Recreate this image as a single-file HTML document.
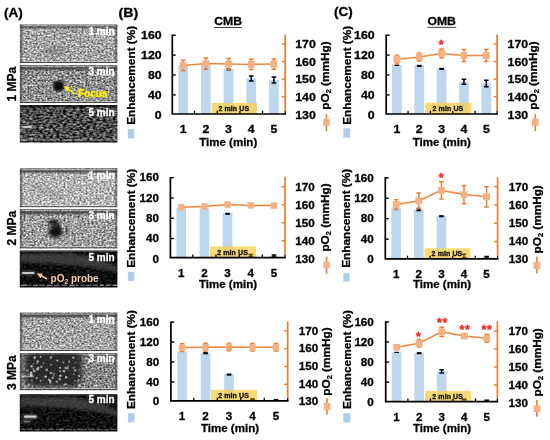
<!DOCTYPE html>
<html><head><meta charset="utf-8"><title>Figure</title>
<style>
html,body{margin:0;padding:0;background:#fff;}
svg{display:block;font-family:'Liberation Sans', Arial, sans-serif;}
text{stroke-width:0.3px;stroke-linejoin:round;}
text.k{stroke:#000;}
</style></head><body>
<svg width="550" height="440" viewBox="0 0 550 440">
<defs>
<filter id="sp1" x="0" y="0" width="100%" height="100%" color-interpolation-filters="sRGB">
<feTurbulence type="fractalNoise" baseFrequency="0.5 0.6" numOctaves="2" seed="8"/>
<feColorMatrix type="matrix" values="1.2 0 0 0 0.050  1.2 0 0 0 0.050  1.2 0 0 0 0.050  0 0 0 0 1"/>
<feGaussianBlur stdDeviation="0.4"/>
</filter>
<filter id="sp2" x="0" y="0" width="100%" height="100%" color-interpolation-filters="sRGB">
<feTurbulence type="fractalNoise" baseFrequency="0.5 0.6" numOctaves="2" seed="15"/>
<feColorMatrix type="matrix" values="1.3 0 0 0 -0.090  1.3 0 0 0 -0.090  1.3 0 0 0 -0.090  0 0 0 0 1"/>
<feGaussianBlur stdDeviation="0.4"/>
</filter>
<filter id="sp3" x="0" y="0" width="100%" height="100%" color-interpolation-filters="sRGB">
<feTurbulence type="fractalNoise" baseFrequency="0.3 0.55" numOctaves="2" seed="22"/>
<feColorMatrix type="matrix" values="1.25 0 0 0 -0.335  1.25 0 0 0 -0.335  1.25 0 0 0 -0.335  0 0 0 0 1"/>
<feGaussianBlur stdDeviation="0.5"/>
</filter>
<filter id="sp4" x="0" y="0" width="100%" height="100%" color-interpolation-filters="sRGB">
<feTurbulence type="fractalNoise" baseFrequency="0.5 0.6" numOctaves="2" seed="29"/>
<feColorMatrix type="matrix" values="1.15 0 0 0 0.135  1.15 0 0 0 0.135  1.15 0 0 0 0.135  0 0 0 0 1"/>
<feGaussianBlur stdDeviation="0.4"/>
</filter>
<filter id="sp5" x="0" y="0" width="100%" height="100%" color-interpolation-filters="sRGB">
<feTurbulence type="fractalNoise" baseFrequency="0.5 0.6" numOctaves="2" seed="36"/>
<feColorMatrix type="matrix" values="1.25 0 0 0 -0.005  1.25 0 0 0 -0.005  1.25 0 0 0 -0.005  0 0 0 0 1"/>
<feGaussianBlur stdDeviation="0.4"/>
</filter>
<filter id="sp6" x="0" y="0" width="100%" height="100%" color-interpolation-filters="sRGB">
<feTurbulence type="fractalNoise" baseFrequency="0.3 0.5" numOctaves="2" seed="43"/>
<feColorMatrix type="matrix" values="0.4 0 0 0 -0.150  0.4 0 0 0 -0.150  0.4 0 0 0 -0.150  0 0 0 0 1"/>
<feGaussianBlur stdDeviation="0.5"/>
</filter>
<filter id="sp7" x="0" y="0" width="100%" height="100%" color-interpolation-filters="sRGB">
<feTurbulence type="fractalNoise" baseFrequency="0.5 0.6" numOctaves="2" seed="50"/>
<feColorMatrix type="matrix" values="1.2 0 0 0 0.040  1.2 0 0 0 0.040  1.2 0 0 0 0.040  0 0 0 0 1"/>
<feGaussianBlur stdDeviation="0.4"/>
</filter>
<filter id="sp8" x="0" y="0" width="100%" height="100%" color-interpolation-filters="sRGB">
<feTurbulence type="fractalNoise" baseFrequency="0.5 0.6" numOctaves="2" seed="57"/>
<feColorMatrix type="matrix" values="1.15 0 0 0 -0.045  1.15 0 0 0 -0.045  1.15 0 0 0 -0.045  0 0 0 0 1"/>
<feGaussianBlur stdDeviation="0.4"/>
</filter>
<filter id="sp9" x="0" y="0" width="100%" height="100%" color-interpolation-filters="sRGB">
<feTurbulence type="fractalNoise" baseFrequency="0.3 0.5" numOctaves="2" seed="64"/>
<feColorMatrix type="matrix" values="0.45 0 0 0 -0.165  0.45 0 0 0 -0.165  0.45 0 0 0 -0.165  0 0 0 0 1"/>
<feGaussianBlur stdDeviation="0.5"/>
</filter>
<filter id="blur05" x="-30%" y="-30%" width="160%" height="160%"><feGaussianBlur stdDeviation="0.45"/></filter>
<filter id="blur07" x="-30%" y="-30%" width="160%" height="160%"><feGaussianBlur stdDeviation="0.5"/></filter>
<filter id="blur2s" x="-30%" y="-30%" width="160%" height="160%"><feGaussianBlur stdDeviation="2"/></filter>
<filter id="blur1" x="-30%" y="-30%" width="160%" height="160%"><feGaussianBlur stdDeviation="0.8"/></filter>
<filter id="blur15" x="-30%" y="-30%" width="160%" height="160%"><feGaussianBlur stdDeviation="1.4"/></filter>
<filter id="blur2" x="-30%" y="-30%" width="160%" height="160%"><feGaussianBlur stdDeviation="2.5"/></filter>
</defs>
<rect width="550" height="440" fill="#fff"/>
<clipPath id="c1"><rect x="19.8" y="24.4" width="97.6" height="38.6"/></clipPath>
<g clip-path="url(#c1)">
<rect x="16.8" y="21.4" width="103.6" height="44.6" filter="url(#sp1)"/>
<rect x="19.8" y="24.40" width="97.6" height="1" fill="#444" opacity="0.85"/><rect x="19.8" y="25.40" width="97.6" height="1" fill="#ccc" opacity="0.55"/><rect x="19.8" y="26.40" width="97.6" height="1.2" fill="#3a3a3a" opacity="0.8"/><rect x="19.8" y="27.60" width="97.6" height="1.2" fill="#3a3a3a" opacity="0.35"/><rect x="19.8" y="61.80" width="97.6" height="1.2" fill="#333" opacity="0.8"/><rect x="19.8" y="60.80" width="97.6" height="1" fill="#eee" opacity="0.55"/><rect x="19.8" y="24.40" width="2.5" height="38.6" fill="#333" opacity="0.5"/><rect x="114.89999999999999" y="24.40" width="2.5" height="38.6" fill="#333" opacity="0.4"/><ellipse cx="55" cy="51" rx="12" ry="4" fill="#555" opacity="0.35" filter="url(#blur2)"/>
</g>
<text x="114.6" y="34.5" font-size="10" text-anchor="end" fill="#fff" font-weight="bold" stroke="#fff" stroke-width="0.25">1 min</text>
<clipPath id="c2"><rect x="19.8" y="65.3" width="97.6" height="37.8"/></clipPath>
<g clip-path="url(#c2)">
<rect x="16.8" y="62.3" width="103.6" height="43.8" filter="url(#sp2)"/>
<rect x="19.8" y="65.30" width="97.6" height="1" fill="#444" opacity="0.85"/><rect x="19.8" y="66.30" width="97.6" height="1" fill="#ccc" opacity="0.55"/><rect x="19.8" y="67.30" width="97.6" height="2.2" fill="#3a3a3a" opacity="0.8"/><rect x="19.8" y="69.50" width="97.6" height="1.2" fill="#3a3a3a" opacity="0.35"/><rect x="19.8" y="101.90" width="97.6" height="1.2" fill="#333" opacity="0.8"/><rect x="19.8" y="100.90" width="97.6" height="1" fill="#eee" opacity="0.55"/><rect x="19.8" y="65.30" width="2.5" height="37.8" fill="#333" opacity="0.5"/><rect x="114.89999999999999" y="65.30" width="2.5" height="37.8" fill="#333" opacity="0.4"/><circle cx="58.5" cy="86" r="5.5" fill="#0c0c0c" filter="url(#blur1)"/><rect x="23" y="84.80" width="14" height="1.1" fill="#ddd" opacity="0.7"/>
</g>
<text x="114.6" y="75.2" font-size="10" text-anchor="end" fill="#fff" font-weight="bold" stroke="#fff" stroke-width="0.25">3 min</text>
<clipPath id="c3"><rect x="19.8" y="105.0" width="97.6" height="37.5"/></clipPath>
<g clip-path="url(#c3)">
<rect x="16.8" y="102.0" width="103.6" height="43.5" filter="url(#sp3)"/>
<rect x="19.8" y="105.00" width="97.6" height="2" fill="#000" opacity="0.6"/><rect x="20.8" y="139.30" width="3.2" height="1.3" fill="#bbb" opacity="0.58"/><rect x="25.2" y="139.30" width="5.0" height="1.3" fill="#bbb" opacity="0.61"/><rect x="30.9" y="139.30" width="2.1" height="1.3" fill="#bbb" opacity="0.69"/><rect x="34.0" y="139.30" width="3.2" height="1.3" fill="#bbb" opacity="0.75"/><rect x="38.6" y="139.30" width="6.2" height="1.3" fill="#bbb" opacity="0.55"/><rect x="46.5" y="139.30" width="2.8" height="1.3" fill="#bbb" opacity="0.61"/><rect x="51.5" y="139.30" width="4.6" height="1.3" fill="#bbb" opacity="0.65"/><rect x="58.0" y="139.30" width="2.3" height="1.3" fill="#bbb" opacity="0.66"/><rect x="62.0" y="139.30" width="3.5" height="1.3" fill="#bbb" opacity="0.39"/><rect x="67.7" y="139.30" width="4.4" height="1.3" fill="#bbb" opacity="0.64"/><rect x="74.3" y="139.30" width="5.6" height="1.3" fill="#bbb" opacity="0.72"/><rect x="81.2" y="139.30" width="6.0" height="1.3" fill="#bbb" opacity="0.54"/><rect x="89.6" y="139.30" width="6.4" height="1.3" fill="#bbb" opacity="0.41"/><rect x="96.7" y="139.30" width="3.1" height="1.3" fill="#bbb" opacity="0.74"/><rect x="101.2" y="139.30" width="5.1" height="1.3" fill="#bbb" opacity="0.49"/><rect x="107.9" y="139.30" width="3.9" height="1.3" fill="#bbb" opacity="0.51"/><rect x="113.5" y="139.30" width="4.9" height="1.3" fill="#bbb" opacity="0.71"/><rect x="19.8" y="141.10" width="97.6" height="1.4" fill="#111" opacity="0.8"/><rect x="21.0" y="124.70" width="12.5" height="4.6" rx="1.5" fill="#777" opacity="0.55" filter="url(#blur1)"/><rect x="22.5" y="125.90" width="9.5" height="2.2" rx="1" fill="#c4c4c4" filter="url(#blur05)"/>
</g>
<text x="114.6" y="115.6" font-size="10" text-anchor="end" fill="#fff" font-weight="bold" stroke="#fff" stroke-width="0.25">5 min</text>
<clipPath id="c4"><rect x="19.8" y="168.3" width="97.6" height="39.0"/></clipPath>
<g clip-path="url(#c4)">
<rect x="16.8" y="165.3" width="103.6" height="45.0" filter="url(#sp4)"/>
<rect x="19.8" y="168.30" width="97.6" height="1" fill="#444" opacity="0.85"/><rect x="19.8" y="169.30" width="97.6" height="1" fill="#ccc" opacity="0.55"/><rect x="19.8" y="170.30" width="97.6" height="2.2" fill="#3a3a3a" opacity="0.8"/><rect x="19.8" y="172.50" width="97.6" height="1.2" fill="#3a3a3a" opacity="0.35"/><rect x="19.8" y="206.10" width="97.6" height="1.2" fill="#333" opacity="0.8"/><rect x="19.8" y="205.10" width="97.6" height="1" fill="#eee" opacity="0.55"/><rect x="19.8" y="168.30" width="2.5" height="39.0" fill="#333" opacity="0.5"/><rect x="114.89999999999999" y="168.30" width="2.5" height="39.0" fill="#333" opacity="0.4"/><path d="M30 186 Q50 190 62 199" stroke="#555" stroke-width="4" fill="none" opacity="0.3" filter="url(#blur2)"/>
</g>
<text x="114.6" y="178.6" font-size="10" text-anchor="end" fill="#fff" font-weight="bold" stroke="#fff" stroke-width="0.25">1 min</text>
<clipPath id="c5"><rect x="19.8" y="209.2" width="97.6" height="39.2"/></clipPath>
<g clip-path="url(#c5)">
<rect x="16.8" y="206.2" width="103.6" height="45.2" filter="url(#sp5)"/>
<rect x="19.8" y="209.20" width="97.6" height="1" fill="#444" opacity="0.85"/><rect x="19.8" y="210.20" width="97.6" height="1" fill="#ccc" opacity="0.55"/><rect x="19.8" y="211.20" width="97.6" height="2.4" fill="#3a3a3a" opacity="0.8"/><rect x="19.8" y="213.60" width="97.6" height="1.2" fill="#3a3a3a" opacity="0.35"/><rect x="19.8" y="247.20" width="97.6" height="1.2" fill="#333" opacity="0.8"/><rect x="19.8" y="246.20" width="97.6" height="1" fill="#eee" opacity="0.55"/><rect x="19.8" y="209.20" width="2.5" height="39.2" fill="#333" opacity="0.5"/><rect x="114.89999999999999" y="209.20" width="2.5" height="39.2" fill="#333" opacity="0.4"/><ellipse cx="55.5" cy="232" rx="7" ry="5.5" fill="#0a0a0a" opacity="0.95" filter="url(#blur15)"/><ellipse cx="53.5" cy="222.5" rx="5.5" ry="3.2" fill="#111" opacity="0.85" filter="url(#blur15)"/><ellipse cx="57" cy="227" rx="3.5" ry="4" fill="#111" opacity="0.7" filter="url(#blur15)"/><ellipse cx="67.5" cy="231" rx="2" ry="3" fill="#222" opacity="0.5" filter="url(#blur1)"/>
</g>
<text x="114.6" y="219.4" font-size="10" text-anchor="end" fill="#fff" font-weight="bold" stroke="#fff" stroke-width="0.25">3 min</text>
<clipPath id="c6"><rect x="19.8" y="250.4" width="97.6" height="37.2"/></clipPath>
<g clip-path="url(#c6)">
<rect x="16.8" y="247.4" width="103.6" height="43.2" filter="url(#sp6)"/>
<path d="M19.8 253.4 L69.8 252.9 Q101.8 257.4 117.39999999999999 267.4 L117.39999999999999 272.4 Q81.8 263.4 19.8 262.4 Z" fill="#585858" opacity="0.6" filter="url(#blur15)"/><rect x="19.8" y="250.40" width="97.6" height="1.5" fill="#666" opacity="0.6"/><rect x="20.8" y="284.60" width="6.0" height="1.3" fill="#ccc" opacity="0.73"/><rect x="28.2" y="284.60" width="3.3" height="1.3" fill="#ccc" opacity="0.40"/><rect x="33.4" y="284.60" width="4.4" height="1.3" fill="#ccc" opacity="0.70"/><rect x="39.0" y="284.60" width="5.9" height="1.3" fill="#ccc" opacity="0.51"/><rect x="46.9" y="284.60" width="5.6" height="1.3" fill="#ccc" opacity="0.57"/><rect x="54.1" y="284.60" width="5.4" height="1.3" fill="#ccc" opacity="0.48"/><rect x="61.2" y="284.60" width="6.0" height="1.3" fill="#ccc" opacity="0.51"/><rect x="69.3" y="284.60" width="5.4" height="1.3" fill="#ccc" opacity="0.74"/><rect x="75.9" y="284.60" width="2.5" height="1.3" fill="#ccc" opacity="0.72"/><rect x="80.5" y="284.60" width="4.2" height="1.3" fill="#ccc" opacity="0.44"/><rect x="85.6" y="284.60" width="5.2" height="1.3" fill="#ccc" opacity="0.52"/><rect x="93.2" y="284.60" width="4.9" height="1.3" fill="#ccc" opacity="0.48"/><rect x="99.9" y="284.60" width="3.8" height="1.3" fill="#ccc" opacity="0.77"/><rect x="106.0" y="284.60" width="4.6" height="1.3" fill="#ccc" opacity="0.66"/><rect x="112.5" y="284.60" width="6.0" height="1.3" fill="#ccc" opacity="0.79"/><rect x="20.5" y="270.70" width="15.5" height="4.6" rx="1.5" fill="#777" opacity="0.55" filter="url(#blur1)"/><rect x="22" y="271.90" width="12.5" height="2.2" rx="1" fill="#c8c8c8" filter="url(#blur05)"/>
</g>
<text x="114.6" y="261.0" font-size="10" text-anchor="end" fill="#fff" font-weight="bold" stroke="#fff" stroke-width="0.25">5 min</text>
<clipPath id="c7"><rect x="19.8" y="312.6" width="97.6" height="38.4"/></clipPath>
<g clip-path="url(#c7)">
<rect x="16.8" y="309.6" width="103.6" height="44.4" filter="url(#sp7)"/>
<rect x="19.8" y="312.60" width="97.6" height="1" fill="#444" opacity="0.85"/><rect x="19.8" y="313.60" width="97.6" height="1" fill="#ccc" opacity="0.55"/><rect x="19.8" y="314.60" width="97.6" height="2.2" fill="#3a3a3a" opacity="0.8"/><rect x="19.8" y="316.80" width="97.6" height="1.2" fill="#3a3a3a" opacity="0.35"/><rect x="19.8" y="349.80" width="97.6" height="1.2" fill="#333" opacity="0.8"/><rect x="19.8" y="348.80" width="97.6" height="1" fill="#eee" opacity="0.55"/><rect x="19.8" y="312.60" width="2.5" height="38.4" fill="#333" opacity="0.5"/><rect x="114.89999999999999" y="312.60" width="2.5" height="38.4" fill="#333" opacity="0.4"/>
</g>
<text x="114.6" y="322.6" font-size="10" text-anchor="end" fill="#fff" font-weight="bold" stroke="#fff" stroke-width="0.25">1 min</text>
<clipPath id="c8"><rect x="19.8" y="353.3" width="97.6" height="37.0"/></clipPath>
<g clip-path="url(#c8)">
<rect x="16.8" y="350.3" width="103.6" height="43.0" filter="url(#sp8)"/>
<rect x="19.8" y="353.30" width="97.6" height="1" fill="#444" opacity="0.85"/><rect x="19.8" y="354.30" width="97.6" height="1" fill="#ccc" opacity="0.55"/><rect x="19.8" y="355.30" width="97.6" height="1.0" fill="#3a3a3a" opacity="0.8"/><rect x="19.8" y="356.30" width="97.6" height="1.2" fill="#3a3a3a" opacity="0.35"/><rect x="19.8" y="389.10" width="97.6" height="1.2" fill="#333" opacity="0.8"/><rect x="19.8" y="388.10" width="97.6" height="1" fill="#eee" opacity="0.55"/><rect x="19.8" y="353.30" width="2.5" height="37.0" fill="#333" opacity="0.5"/><rect x="114.89999999999999" y="353.30" width="2.5" height="37.0" fill="#333" opacity="0.4"/><rect x="25" y="353" width="57" height="33.5" rx="8" fill="#1a1a1a" opacity="0.85" filter="url(#blur2s)"/><g filter="url(#blur07)"><circle cx="51.0" cy="373.0" r="1.31" fill="#d0d0d0" opacity="0.63"/><circle cx="53.9" cy="373.8" r="0.90" fill="#d0d0d0" opacity="0.66"/><circle cx="60.4" cy="379.9" r="0.85" fill="#d0d0d0" opacity="0.55"/><circle cx="31.8" cy="380.4" r="1.18" fill="#d0d0d0" opacity="0.42"/><circle cx="79.1" cy="385.0" r="1.16" fill="#d0d0d0" opacity="0.71"/><circle cx="35.3" cy="356.9" r="1.09" fill="#d0d0d0" opacity="0.43"/><circle cx="37.1" cy="363.6" r="0.82" fill="#d0d0d0" opacity="0.63"/><circle cx="50.3" cy="381.4" r="1.09" fill="#d0d0d0" opacity="0.72"/><circle cx="53.5" cy="376.0" r="1.05" fill="#d0d0d0" opacity="0.54"/><circle cx="79.9" cy="385.9" r="1.26" fill="#d0d0d0" opacity="0.75"/><circle cx="43.7" cy="363.3" r="0.96" fill="#d0d0d0" opacity="0.44"/><circle cx="67.6" cy="368.3" r="1.27" fill="#d0d0d0" opacity="0.59"/><circle cx="77.8" cy="381.5" r="0.80" fill="#d0d0d0" opacity="0.50"/><circle cx="75.2" cy="370.4" r="1.34" fill="#d0d0d0" opacity="0.60"/><circle cx="30.9" cy="375.1" r="1.23" fill="#d0d0d0" opacity="0.53"/><circle cx="31.6" cy="366.3" r="1.33" fill="#d0d0d0" opacity="0.78"/><circle cx="33.3" cy="363.8" r="0.86" fill="#d0d0d0" opacity="0.43"/><circle cx="69.2" cy="361.7" r="1.11" fill="#d0d0d0" opacity="0.62"/><circle cx="37.1" cy="378.1" r="0.87" fill="#d0d0d0" opacity="0.72"/><circle cx="33.2" cy="368.9" r="0.92" fill="#d0d0d0" opacity="0.53"/><circle cx="78.5" cy="380.2" r="0.97" fill="#d0d0d0" opacity="0.84"/><circle cx="38.2" cy="368.1" r="1.27" fill="#d0d0d0" opacity="0.72"/><circle cx="32.3" cy="385.7" r="0.92" fill="#d0d0d0" opacity="0.53"/><circle cx="68.0" cy="366.2" r="0.96" fill="#d0d0d0" opacity="0.44"/><circle cx="31.8" cy="373.7" r="0.93" fill="#d0d0d0" opacity="0.70"/><circle cx="46.7" cy="369.9" r="1.33" fill="#d0d0d0" opacity="0.64"/><circle cx="57.5" cy="382.1" r="0.90" fill="#d0d0d0" opacity="0.48"/><circle cx="75.1" cy="380.6" r="0.94" fill="#d0d0d0" opacity="0.49"/><circle cx="66.2" cy="384.2" r="0.91" fill="#d0d0d0" opacity="0.88"/><circle cx="73.8" cy="374.3" r="1.03" fill="#d0d0d0" opacity="0.45"/><circle cx="29.1" cy="384.9" r="0.93" fill="#d0d0d0" opacity="0.75"/><circle cx="40.6" cy="380.8" r="1.13" fill="#d0d0d0" opacity="0.55"/><circle cx="36.3" cy="377.8" r="0.84" fill="#d0d0d0" opacity="0.51"/><circle cx="56.6" cy="381.6" r="1.14" fill="#d0d0d0" opacity="0.54"/><circle cx="75.6" cy="362.5" r="0.81" fill="#d0d0d0" opacity="0.53"/><circle cx="50.6" cy="358.3" r="0.90" fill="#d0d0d0" opacity="0.58"/><circle cx="57.3" cy="360.4" r="1.00" fill="#d0d0d0" opacity="0.85"/><circle cx="79.0" cy="375.9" r="1.18" fill="#d0d0d0" opacity="0.69"/><circle cx="34.4" cy="357.5" r="0.81" fill="#d0d0d0" opacity="0.86"/><circle cx="64.2" cy="384.9" r="0.81" fill="#d0d0d0" opacity="0.72"/><circle cx="52.6" cy="378.0" r="0.98" fill="#d0d0d0" opacity="0.90"/><circle cx="31.0" cy="372.6" r="1.21" fill="#d0d0d0" opacity="0.85"/><circle cx="66.1" cy="377.3" r="1.24" fill="#d0d0d0" opacity="0.86"/><circle cx="45.6" cy="376.7" r="1.30" fill="#d0d0d0" opacity="0.84"/><circle cx="49.1" cy="379.8" r="1.27" fill="#d0d0d0" opacity="0.69"/><circle cx="60.1" cy="367.8" r="1.12" fill="#d0d0d0" opacity="0.70"/><circle cx="31.3" cy="375.4" r="1.35" fill="#d0d0d0" opacity="0.84"/><circle cx="65.6" cy="368.0" r="1.20" fill="#d0d0d0" opacity="0.69"/><circle cx="50.3" cy="381.2" r="0.85" fill="#d0d0d0" opacity="0.78"/><circle cx="28.6" cy="374.2" r="1.06" fill="#d0d0d0" opacity="0.52"/><circle cx="64.0" cy="371.2" r="1.14" fill="#d0d0d0" opacity="0.86"/><circle cx="40.6" cy="356.8" r="0.97" fill="#d0d0d0" opacity="0.74"/><circle cx="37.7" cy="361.5" r="1.30" fill="#d0d0d0" opacity="0.73"/><circle cx="50.4" cy="382.8" r="0.98" fill="#d0d0d0" opacity="0.73"/><circle cx="37.5" cy="369.2" r="1.24" fill="#d0d0d0" opacity="0.86"/><circle cx="73.7" cy="367.8" r="1.12" fill="#d0d0d0" opacity="0.56"/><circle cx="34.2" cy="371.1" r="1.26" fill="#d0d0d0" opacity="0.82"/><circle cx="64.7" cy="384.5" r="0.95" fill="#d0d0d0" opacity="0.48"/><circle cx="50.9" cy="364.6" r="0.92" fill="#d0d0d0" opacity="0.61"/><circle cx="60.2" cy="371.1" r="0.97" fill="#d0d0d0" opacity="0.82"/><circle cx="79.0" cy="369.8" r="0.84" fill="#d0d0d0" opacity="0.42"/><circle cx="73.3" cy="357.7" r="1.19" fill="#d0d0d0" opacity="0.69"/><circle cx="43.4" cy="379.8" r="0.81" fill="#d0d0d0" opacity="0.47"/><circle cx="51.1" cy="357.2" r="1.26" fill="#d0d0d0" opacity="0.52"/><circle cx="34.5" cy="357.9" r="1.15" fill="#d0d0d0" opacity="0.62"/><circle cx="60.4" cy="375.8" r="1.24" fill="#d0d0d0" opacity="0.88"/><circle cx="63.3" cy="362.4" r="1.06" fill="#d0d0d0" opacity="0.49"/><circle cx="27.6" cy="370.4" r="1.19" fill="#d0d0d0" opacity="0.49"/><circle cx="41.4" cy="366.7" r="1.18" fill="#d0d0d0" opacity="0.66"/><circle cx="59.6" cy="378.8" r="1.02" fill="#d0d0d0" opacity="0.80"/></g><rect x="21" y="375.60" width="13" height="1.6" fill="#ddd" opacity="0.6"/>
</g>
<text x="114.6" y="362.4" font-size="10" text-anchor="end" fill="#fff" font-weight="bold" stroke="#fff" stroke-width="0.25">3 min</text>
<clipPath id="c9"><rect x="19.8" y="393.9" width="97.6" height="37.6"/></clipPath>
<g clip-path="url(#c9)">
<rect x="16.8" y="390.9" width="103.6" height="43.6" filter="url(#sp9)"/>
<path d="M19.8 396.9 L69.8 396.4 Q101.8 400.9 117.39999999999999 410.9 L117.39999999999999 415.9 Q81.8 406.9 19.8 405.9 Z" fill="#585858" opacity="0.6" filter="url(#blur15)"/><rect x="19.8" y="393.90" width="97.6" height="1.5" fill="#666" opacity="0.6"/><rect x="20.8" y="428.70" width="4.3" height="1.3" fill="#bbb" opacity="0.48"/><rect x="25.9" y="428.70" width="6.3" height="1.3" fill="#bbb" opacity="0.35"/><rect x="33.7" y="428.70" width="6.5" height="1.3" fill="#bbb" opacity="0.38"/><rect x="41.8" y="428.70" width="5.1" height="1.3" fill="#bbb" opacity="0.36"/><rect x="48.2" y="428.70" width="5.5" height="1.3" fill="#bbb" opacity="0.51"/><rect x="55.6" y="428.70" width="2.8" height="1.3" fill="#bbb" opacity="0.43"/><rect x="59.1" y="428.70" width="4.5" height="1.3" fill="#bbb" opacity="0.67"/><rect x="65.4" y="428.70" width="5.9" height="1.3" fill="#bbb" opacity="0.48"/><rect x="73.2" y="428.70" width="2.5" height="1.3" fill="#bbb" opacity="0.45"/><rect x="77.6" y="428.70" width="5.6" height="1.3" fill="#bbb" opacity="0.50"/><rect x="83.9" y="428.70" width="3.3" height="1.3" fill="#bbb" opacity="0.42"/><rect x="88.3" y="428.70" width="6.0" height="1.3" fill="#bbb" opacity="0.42"/><rect x="96.6" y="428.70" width="6.4" height="1.3" fill="#bbb" opacity="0.37"/><rect x="104.3" y="428.70" width="4.5" height="1.3" fill="#bbb" opacity="0.36"/><rect x="110.1" y="428.70" width="6.5" height="1.3" fill="#bbb" opacity="0.39"/><rect x="22.5" y="414.20" width="15.5" height="4.8" rx="1.5" fill="#777" opacity="0.55" filter="url(#blur1)"/><rect x="24" y="415.40" width="12.5" height="2.4" rx="1" fill="#d0d0d0" filter="url(#blur05)"/><rect x="22.5" y="419.70" width="9" height="3.5999999999999996" rx="1.5" fill="#777" opacity="0.55" filter="url(#blur1)"/><rect x="24" y="420.90" width="6" height="1.2" rx="1" fill="#777" filter="url(#blur05)"/>
</g>
<text x="114.6" y="403.4" font-size="10" text-anchor="end" fill="#fff" font-weight="bold" stroke="#fff" stroke-width="0.25">5 min</text>
<rect x="178.35" y="64.90" width="9.7" height="49.10" fill="#bdd7ee"/>
<rect x="201.02" y="64.70" width="9.7" height="49.30" fill="#bdd7ee"/>
<rect x="223.69" y="69.00" width="9.7" height="45.00" fill="#bdd7ee"/>
<rect x="246.36" y="78.40" width="9.7" height="35.60" fill="#bdd7ee"/>
<rect x="269.03" y="80.00" width="9.7" height="34.00" fill="#bdd7ee"/>
<rect x="211.50" y="102.90" width="45.50" height="11.10" fill="#f7d050" fill-opacity="0.8"/>
<text class="k" x="233.85" y="111.0" font-size="7.0" text-anchor="middle" fill="#1a1a1a" font-weight="bold" letter-spacing="0.1">2 min US</text>
<rect x="226.24" y="68.35" width="4.6" height="2.1" fill="#000"/>
<path d="M251.21 76.10V81.10M248.91 76.10h4.6M248.91 81.10h4.6" stroke="#000" stroke-width="1.5" fill="none"/>
<path d="M273.88 77.00V83.00M271.58 77.00h4.6M271.58 83.00h4.6" stroke="#000" stroke-width="1.5" fill="none"/>
<path d="M172.3 34.50V114.0H286.05" stroke="#000" stroke-width="1.7" fill="none" stroke-linejoin="miter"/>
<path d="M172.3 94.90h3.4" stroke="#000" stroke-width="1.4"/>
<path d="M172.3 75.00h3.4" stroke="#000" stroke-width="1.4"/>
<path d="M172.3 55.10h3.4" stroke="#000" stroke-width="1.4"/>
<path d="M172.3 35.20h3.4" stroke="#000" stroke-width="1.4"/>
<path d="M194.53 114.0v-3.2" stroke="#000" stroke-width="1.3"/>
<path d="M217.20 114.0v-3.2" stroke="#000" stroke-width="1.3"/>
<path d="M239.88 114.0v-3.2" stroke="#000" stroke-width="1.3"/>
<path d="M262.54 114.0v-3.2" stroke="#000" stroke-width="1.3"/>
<path d="M285.20 114.0v-3.2" stroke="#000" stroke-width="1.3"/>
<path d="M285.2 34.50V111.00" stroke="#ed7d31" stroke-width="1.7" fill="none"/>
<path d="M281.60 96.80H285.2" stroke="#ed7d31" stroke-width="1.4"/>
<path d="M281.60 79.20H285.2" stroke="#ed7d31" stroke-width="1.4"/>
<path d="M281.60 61.60H285.2" stroke="#ed7d31" stroke-width="1.4"/>
<path d="M281.60 44.00H285.2" stroke="#ed7d31" stroke-width="1.4"/>
<text class="k" transform="translate(161.6 118.5) scale(1.1 1)" font-size="11.2" text-anchor="end" fill="#000" font-weight="bold" >0</text>
<text class="k" transform="translate(161.6 98.53) scale(1.1 1)" font-size="11.2" text-anchor="end" fill="#000" font-weight="bold" >40</text>
<text class="k" transform="translate(161.6 78.55) scale(1.1 1)" font-size="11.2" text-anchor="end" fill="#000" font-weight="bold" >80</text>
<text class="k" transform="translate(161.6 58.57) scale(1.1 1)" font-size="11.2" text-anchor="end" fill="#000" font-weight="bold" >120</text>
<text class="k" transform="translate(161.6 38.6) scale(1.1 1)" font-size="11.2" text-anchor="end" fill="#000" font-weight="bold" >160</text>
<text class="k" transform="translate(295.2 118.5) scale(1.1 1)" font-size="11.2" text-anchor="start" fill="#000" font-weight="bold" >130</text>
<text class="k" transform="translate(295.2 100.88) scale(1.1 1)" font-size="11.2" text-anchor="start" fill="#000" font-weight="bold" >140</text>
<text class="k" transform="translate(295.2 83.25) scale(1.1 1)" font-size="11.2" text-anchor="start" fill="#000" font-weight="bold" >150</text>
<text class="k" transform="translate(295.2 65.62) scale(1.1 1)" font-size="11.2" text-anchor="start" fill="#000" font-weight="bold" >160</text>
<text class="k" transform="translate(295.2 48.0) scale(1.1 1)" font-size="11.2" text-anchor="start" fill="#000" font-weight="bold" >170</text>
<text class="k" transform="translate(183.2 133.2) scale(1.1 1)" font-size="11.2" text-anchor="middle" fill="#000" font-weight="bold" >1</text>
<text class="k" transform="translate(205.87 133.2) scale(1.1 1)" font-size="11.2" text-anchor="middle" fill="#000" font-weight="bold" >2</text>
<text class="k" transform="translate(228.54 133.2) scale(1.1 1)" font-size="11.2" text-anchor="middle" fill="#000" font-weight="bold" >3</text>
<text class="k" transform="translate(251.21 133.2) scale(1.1 1)" font-size="11.2" text-anchor="middle" fill="#000" font-weight="bold" >4</text>
<text class="k" transform="translate(273.88 133.2) scale(1.1 1)" font-size="11.2" text-anchor="middle" fill="#000" font-weight="bold" >5</text>
<text class="k" transform="translate(228.2 145.5) scale(0.985 1)" font-size="11.7" text-anchor="middle" fill="#000" font-weight="bold" >Time (min)</text>
<path d="M183.20 60.20V70.80M180.90 60.20h4.6M180.90 70.80h4.6" stroke="#ed7d31" stroke-width="1.45" fill="none"/>
<path d="M205.87 58.00V69.20M203.57 58.00h4.6M203.57 69.20h4.6" stroke="#ed7d31" stroke-width="1.45" fill="none"/>
<path d="M228.54 58.50V69.30M226.24 58.50h4.6M226.24 69.30h4.6" stroke="#ed7d31" stroke-width="1.45" fill="none"/>
<path d="M251.21 59.20V69.60M248.91 59.20h4.6M248.91 69.60h4.6" stroke="#ed7d31" stroke-width="1.45" fill="none"/>
<path d="M273.88 58.90V69.30M271.58 58.90h4.6M271.58 69.30h4.6" stroke="#ed7d31" stroke-width="1.45" fill="none"/>
<polyline points="183.20,65.50 205.87,63.60 228.54,63.90 251.21,64.40 273.88,64.10" stroke="#f0883f" stroke-width="1.5" fill="none"/>
<rect x="179.80" y="62.10" width="6.8" height="6.8" fill="#f4b183"/>
<rect x="202.47" y="60.20" width="6.8" height="6.8" fill="#f4b183"/>
<rect x="225.14" y="60.50" width="6.8" height="6.8" fill="#f4b183"/>
<rect x="247.81" y="61.00" width="6.8" height="6.8" fill="#f4b183"/>
<rect x="270.48" y="60.70" width="6.8" height="6.8" fill="#f4b183"/>
<text class="k" transform="translate(135.0 124.8) rotate(-90)" font-size="11.8" text-anchor="start" fill="#000" font-weight="bold">Enhancement (%)</text>
<rect x="127.8" y="129.0" width="6.4" height="9.5" fill="#aecdeb"/>
<text class="k" transform="translate(329.2 109.7) rotate(-90)" font-size="11.8" font-weight="bold">pO<tspan font-size="7.3" dy="2.2">2</tspan><tspan dy="-2.2"> (mmHg)</tspan></text>
<path d="M326.5 114.0V131.0" stroke="#ed7d31" stroke-width="1.6"/>
<rect x="323.2" y="118.8" width="6.6" height="7.00" fill="#f4b183"/>
<rect x="176.35" y="207.80" width="9.7" height="49.90" fill="#bdd7ee"/>
<rect x="199.55" y="208.60" width="9.7" height="49.10" fill="#bdd7ee"/>
<rect x="222.75" y="212.90" width="9.7" height="44.80" fill="#bdd7ee"/>
<rect x="269.15" y="256.20" width="9.7" height="1.50" fill="#bdd7ee"/>
<rect x="210.00" y="246.50" width="46.00" height="11.20" fill="#f7d050" fill-opacity="0.8"/>
<text class="k" x="232.6" y="254.7" font-size="7.0" text-anchor="middle" fill="#1a1a1a" font-weight="bold" letter-spacing="0.1">2 min US</text>
<rect x="225.30" y="212.75" width="4.6" height="2.1" fill="#000"/>
<path d="M250.80 254.60V256.60M248.50 254.60h4.6M248.50 256.60h4.6" stroke="#5a4a10" stroke-width="1.5" fill="none"/>
<path d="M274.00 255.10V256.90M271.70 255.10h4.6M271.70 256.90h4.6" stroke="#000" stroke-width="1.5" fill="none"/>
<path d="M170.4 177.00V257.7H285.85" stroke="#000" stroke-width="1.7" fill="none" stroke-linejoin="miter"/>
<path d="M170.4 238.53h3.4" stroke="#000" stroke-width="1.4"/>
<path d="M170.4 218.25h3.4" stroke="#000" stroke-width="1.4"/>
<path d="M170.4 197.97h3.4" stroke="#000" stroke-width="1.4"/>
<path d="M170.4 177.70h3.4" stroke="#000" stroke-width="1.4"/>
<path d="M192.80 257.7v-3.2" stroke="#000" stroke-width="1.3"/>
<path d="M216.00 257.7v-3.2" stroke="#000" stroke-width="1.3"/>
<path d="M239.20 257.7v-3.2" stroke="#000" stroke-width="1.3"/>
<path d="M262.40 257.7v-3.2" stroke="#000" stroke-width="1.3"/>
<path d="M285.00 257.7v-3.2" stroke="#000" stroke-width="1.3"/>
<path d="M285.0 177.00V254.70" stroke="#ed7d31" stroke-width="1.7" fill="none"/>
<path d="M281.40 240.80H285.0" stroke="#ed7d31" stroke-width="1.4"/>
<path d="M281.40 222.80H285.0" stroke="#ed7d31" stroke-width="1.4"/>
<path d="M281.40 204.80H285.0" stroke="#ed7d31" stroke-width="1.4"/>
<path d="M281.40 186.80H285.0" stroke="#ed7d31" stroke-width="1.4"/>
<text class="k" transform="translate(159.0 262.7) scale(1.04 1)" font-size="11.2" text-anchor="end" fill="#000" font-weight="bold" >0</text>
<text class="k" transform="translate(159.0 242.38) scale(1.04 1)" font-size="11.2" text-anchor="end" fill="#000" font-weight="bold" >40</text>
<text class="k" transform="translate(159.0 222.05) scale(1.04 1)" font-size="11.2" text-anchor="end" fill="#000" font-weight="bold" >80</text>
<text class="k" transform="translate(159.0 201.72) scale(1.04 1)" font-size="11.2" text-anchor="end" fill="#000" font-weight="bold" >120</text>
<text class="k" transform="translate(159.0 181.4) scale(1.04 1)" font-size="11.2" text-anchor="end" fill="#000" font-weight="bold" >160</text>
<text class="k" transform="translate(295.2 262.7) scale(1.04 1)" font-size="11.2" text-anchor="start" fill="#000" font-weight="bold" >130</text>
<text class="k" transform="translate(295.2 244.67) scale(1.04 1)" font-size="11.2" text-anchor="start" fill="#000" font-weight="bold" >140</text>
<text class="k" transform="translate(295.2 226.65) scale(1.04 1)" font-size="11.2" text-anchor="start" fill="#000" font-weight="bold" >150</text>
<text class="k" transform="translate(295.2 208.62) scale(1.04 1)" font-size="11.2" text-anchor="start" fill="#000" font-weight="bold" >160</text>
<text class="k" transform="translate(295.2 190.6) scale(1.04 1)" font-size="11.2" text-anchor="start" fill="#000" font-weight="bold" >170</text>
<text class="k" transform="translate(181.2 277.0) scale(1.04 1)" font-size="11.2" text-anchor="middle" fill="#000" font-weight="bold" >1</text>
<text class="k" transform="translate(204.4 277.0) scale(1.04 1)" font-size="11.2" text-anchor="middle" fill="#000" font-weight="bold" >2</text>
<text class="k" transform="translate(227.6 277.0) scale(1.04 1)" font-size="11.2" text-anchor="middle" fill="#000" font-weight="bold" >3</text>
<text class="k" transform="translate(250.8 277.0) scale(1.04 1)" font-size="11.2" text-anchor="middle" fill="#000" font-weight="bold" >4</text>
<text class="k" transform="translate(274.0 277.0) scale(1.04 1)" font-size="11.2" text-anchor="middle" fill="#000" font-weight="bold" >5</text>
<text class="k" transform="translate(228.0 288.0) scale(0.985 1)" font-size="11.7" text-anchor="middle" fill="#000" font-weight="bold" >Time (min)</text>
<polyline points="181.20,207.20 204.40,206.50 227.60,204.60 250.80,205.40 274.00,205.60" stroke="#f0883f" stroke-width="1.5" fill="none"/>
<rect x="178.00" y="204.00" width="6.4" height="6.4" fill="#f4b183"/>
<rect x="201.20" y="203.30" width="6.4" height="6.4" fill="#f4b183"/>
<rect x="224.40" y="201.40" width="6.4" height="6.4" fill="#f4b183"/>
<rect x="247.60" y="202.20" width="6.4" height="6.4" fill="#f4b183"/>
<rect x="270.80" y="202.40" width="6.4" height="6.4" fill="#f4b183"/>
<text class="k" transform="translate(134.7 267.8) rotate(-90)" font-size="11.8" text-anchor="start" fill="#000" font-weight="bold">Enhancement (%)</text>
<rect x="127.9" y="271.8" width="6.4" height="9.2" fill="#aecdeb"/>
<text class="k" transform="translate(329.2 251.6) rotate(-90)" font-size="11.8" font-weight="bold">pO<tspan font-size="7.3" dy="2.2">2</tspan><tspan dy="-2.2"> (mmHg)</tspan></text>
<path d="M326.6 256.5V273.7" stroke="#ed7d31" stroke-width="1.6"/>
<rect x="323.3" y="261.9" width="6.6" height="6.00" fill="#f4b183"/>
<rect x="177.25" y="351.80" width="9.7" height="49.10" fill="#bdd7ee"/>
<rect x="200.72" y="352.50" width="9.7" height="48.40" fill="#bdd7ee"/>
<rect x="224.19" y="374.00" width="9.7" height="26.90" fill="#bdd7ee"/>
<rect x="211.00" y="389.90" width="46.00" height="11.00" fill="#f7d050" fill-opacity="0.8"/>
<text class="k" x="233.6" y="397.9" font-size="7.0" text-anchor="middle" fill="#1a1a1a" font-weight="bold" letter-spacing="0.1">2 min US</text>
<rect x="203.27" y="352.15" width="4.6" height="2.1" fill="#000"/>
<rect x="226.74" y="373.55" width="4.6" height="2.1" fill="#000"/>
<rect x="250.21" y="398.25" width="4.6" height="2.1" fill="#5a4a10"/>
<rect x="273.68" y="398.95" width="4.6" height="2.1" fill="#000"/>
<path d="M170.9 321.40V400.9H288.55" stroke="#000" stroke-width="1.7" fill="none" stroke-linejoin="miter"/>
<path d="M170.9 381.88h3.4" stroke="#000" stroke-width="1.4"/>
<path d="M170.9 361.95h3.4" stroke="#000" stroke-width="1.4"/>
<path d="M170.9 342.03h3.4" stroke="#000" stroke-width="1.4"/>
<path d="M170.9 322.10h3.4" stroke="#000" stroke-width="1.4"/>
<path d="M193.84 400.9v-3.2" stroke="#000" stroke-width="1.3"/>
<path d="M217.31 400.9v-3.2" stroke="#000" stroke-width="1.3"/>
<path d="M240.78 400.9v-3.2" stroke="#000" stroke-width="1.3"/>
<path d="M264.25 400.9v-3.2" stroke="#000" stroke-width="1.3"/>
<path d="M287.70 400.9v-3.2" stroke="#000" stroke-width="1.3"/>
<path d="M287.7 321.40V397.90" stroke="#ed7d31" stroke-width="1.7" fill="none"/>
<path d="M284.10 384.35H287.7" stroke="#ed7d31" stroke-width="1.4"/>
<path d="M284.10 366.50H287.7" stroke="#ed7d31" stroke-width="1.4"/>
<path d="M284.10 348.65H287.7" stroke="#ed7d31" stroke-width="1.4"/>
<path d="M284.10 330.80H287.7" stroke="#ed7d31" stroke-width="1.4"/>
<text class="k" transform="translate(159.2 405.4) scale(1.04 1)" font-size="11.2" text-anchor="end" fill="#000" font-weight="bold" >0</text>
<text class="k" transform="translate(159.2 385.52) scale(1.04 1)" font-size="11.2" text-anchor="end" fill="#000" font-weight="bold" >40</text>
<text class="k" transform="translate(159.2 365.65) scale(1.04 1)" font-size="11.2" text-anchor="end" fill="#000" font-weight="bold" >80</text>
<text class="k" transform="translate(159.2 345.77) scale(1.04 1)" font-size="11.2" text-anchor="end" fill="#000" font-weight="bold" >120</text>
<text class="k" transform="translate(159.2 325.9) scale(1.04 1)" font-size="11.2" text-anchor="end" fill="#000" font-weight="bold" >160</text>
<text class="k" transform="translate(298.8 405.2) scale(1.04 1)" font-size="11.2" text-anchor="start" fill="#000" font-weight="bold" >130</text>
<text class="k" transform="translate(298.8 387.55) scale(1.04 1)" font-size="11.2" text-anchor="start" fill="#000" font-weight="bold" >140</text>
<text class="k" transform="translate(298.8 369.9) scale(1.04 1)" font-size="11.2" text-anchor="start" fill="#000" font-weight="bold" >150</text>
<text class="k" transform="translate(298.8 352.25) scale(1.04 1)" font-size="11.2" text-anchor="start" fill="#000" font-weight="bold" >160</text>
<text class="k" transform="translate(298.8 334.6) scale(1.04 1)" font-size="11.2" text-anchor="start" fill="#000" font-weight="bold" >170</text>
<text class="k" transform="translate(182.1 419.9) scale(1.04 1)" font-size="11.2" text-anchor="middle" fill="#000" font-weight="bold" >1</text>
<text class="k" transform="translate(205.57 419.9) scale(1.04 1)" font-size="11.2" text-anchor="middle" fill="#000" font-weight="bold" >2</text>
<text class="k" transform="translate(229.04 419.9) scale(1.04 1)" font-size="11.2" text-anchor="middle" fill="#000" font-weight="bold" >3</text>
<text class="k" transform="translate(252.51 419.9) scale(1.04 1)" font-size="11.2" text-anchor="middle" fill="#000" font-weight="bold" >4</text>
<text class="k" transform="translate(275.98 419.9) scale(1.04 1)" font-size="11.2" text-anchor="middle" fill="#000" font-weight="bold" >5</text>
<text class="k" transform="translate(230.0 432.0) scale(0.985 1)" font-size="11.7" text-anchor="middle" fill="#000" font-weight="bold" >Time (min)</text>
<path d="M182.10 343.70V351.50M179.80 343.70h4.6M179.80 351.50h4.6" stroke="#ed7d31" stroke-width="1.45" fill="none"/>
<path d="M205.57 343.30V351.10M203.27 343.30h4.6M203.27 351.10h4.6" stroke="#ed7d31" stroke-width="1.45" fill="none"/>
<path d="M229.04 343.10V350.70M226.74 343.10h4.6M226.74 350.70h4.6" stroke="#ed7d31" stroke-width="1.45" fill="none"/>
<path d="M252.51 343.50V351.10M250.21 343.50h4.6M250.21 351.10h4.6" stroke="#ed7d31" stroke-width="1.45" fill="none"/>
<path d="M275.98 343.50V351.10M273.68 343.50h4.6M273.68 351.10h4.6" stroke="#ed7d31" stroke-width="1.45" fill="none"/>
<polyline points="182.10,347.60 205.57,347.20 229.04,346.90 252.51,347.30 275.98,347.30" stroke="#f0883f" stroke-width="1.5" fill="none"/>
<rect x="178.90" y="344.40" width="6.4" height="6.4" fill="#f4b183"/>
<rect x="202.37" y="344.00" width="6.4" height="6.4" fill="#f4b183"/>
<rect x="225.84" y="343.70" width="6.4" height="6.4" fill="#f4b183"/>
<rect x="249.31" y="344.10" width="6.4" height="6.4" fill="#f4b183"/>
<rect x="272.78" y="344.10" width="6.4" height="6.4" fill="#f4b183"/>
<text class="k" transform="translate(135.3 409.0) rotate(-90)" font-size="11.8" text-anchor="start" fill="#000" font-weight="bold">Enhancement (%)</text>
<rect x="127.9" y="413.3" width="6.6" height="9.0" fill="#aecdeb"/>
<text class="k" transform="translate(330.0 395.7) rotate(-90)" font-size="11.8" font-weight="bold">pO<tspan font-size="7.3" dy="2.2">2</tspan><tspan dy="-2.2"> (mmHg)</tspan></text>
<path d="M327.0 398.0V414.8" stroke="#ed7d31" stroke-width="1.6"/>
<rect x="323.7" y="403.0" width="6.6" height="7.00" fill="#f4b183"/>
<rect x="392.05" y="65.00" width="9.7" height="49.00" fill="#bdd7ee"/>
<rect x="414.40" y="65.30" width="9.7" height="48.70" fill="#bdd7ee"/>
<rect x="436.75" y="68.50" width="9.7" height="45.50" fill="#bdd7ee"/>
<rect x="459.10" y="81.70" width="9.7" height="32.30" fill="#bdd7ee"/>
<rect x="481.45" y="83.50" width="9.7" height="30.50" fill="#bdd7ee"/>
<rect x="425.20" y="102.80" width="46.30" height="11.20" fill="#f7d050" fill-opacity="0.8"/>
<text class="k" x="447.95" y="111.0" font-size="7.0" text-anchor="middle" fill="#1a1a1a" font-weight="bold" letter-spacing="0.1">2 min US</text>
<rect x="394.60" y="64.70" width="4.6" height="1.2" fill="#000"/>
<rect x="416.95" y="64.85" width="4.6" height="2.1" fill="#000"/>
<rect x="439.30" y="67.85" width="4.6" height="2.1" fill="#000"/>
<path d="M463.95 79.20V84.20M461.65 79.20h4.6M461.65 84.20h4.6" stroke="#000" stroke-width="1.5" fill="none"/>
<path d="M486.30 80.30V86.70M484.00 80.30h4.6M484.00 86.70h4.6" stroke="#000" stroke-width="1.5" fill="none"/>
<path d="M386.2 34.50V114.0H497.95" stroke="#000" stroke-width="1.7" fill="none" stroke-linejoin="miter"/>
<path d="M386.2 94.90h3.4" stroke="#000" stroke-width="1.4"/>
<path d="M386.2 75.00h3.4" stroke="#000" stroke-width="1.4"/>
<path d="M386.2 55.10h3.4" stroke="#000" stroke-width="1.4"/>
<path d="M386.2 35.20h3.4" stroke="#000" stroke-width="1.4"/>
<path d="M408.07 114.0v-3.2" stroke="#000" stroke-width="1.3"/>
<path d="M430.42 114.0v-3.2" stroke="#000" stroke-width="1.3"/>
<path d="M452.77 114.0v-3.2" stroke="#000" stroke-width="1.3"/>
<path d="M475.12 114.0v-3.2" stroke="#000" stroke-width="1.3"/>
<path d="M497.10 114.0v-3.2" stroke="#000" stroke-width="1.3"/>
<path d="M497.1 34.50V111.00" stroke="#ed7d31" stroke-width="1.7" fill="none"/>
<path d="M493.50 96.78H497.1" stroke="#ed7d31" stroke-width="1.4"/>
<path d="M493.50 79.15H497.1" stroke="#ed7d31" stroke-width="1.4"/>
<path d="M493.50 61.53H497.1" stroke="#ed7d31" stroke-width="1.4"/>
<path d="M493.50 43.90H497.1" stroke="#ed7d31" stroke-width="1.4"/>
<text class="k" transform="translate(374.6 118.5) scale(1.1 1)" font-size="11.2" text-anchor="end" fill="#000" font-weight="bold" >0</text>
<text class="k" transform="translate(374.6 98.53) scale(1.1 1)" font-size="11.2" text-anchor="end" fill="#000" font-weight="bold" >40</text>
<text class="k" transform="translate(374.6 78.55) scale(1.1 1)" font-size="11.2" text-anchor="end" fill="#000" font-weight="bold" >80</text>
<text class="k" transform="translate(374.6 58.57) scale(1.1 1)" font-size="11.2" text-anchor="end" fill="#000" font-weight="bold" >120</text>
<text class="k" transform="translate(374.6 38.6) scale(1.1 1)" font-size="11.2" text-anchor="end" fill="#000" font-weight="bold" >160</text>
<text class="k" transform="translate(507.6 118.5) scale(1.1 1)" font-size="11.2" text-anchor="start" fill="#000" font-weight="bold" >130</text>
<text class="k" transform="translate(507.6 100.88) scale(1.1 1)" font-size="11.2" text-anchor="start" fill="#000" font-weight="bold" >140</text>
<text class="k" transform="translate(507.6 83.25) scale(1.1 1)" font-size="11.2" text-anchor="start" fill="#000" font-weight="bold" >150</text>
<text class="k" transform="translate(507.6 65.62) scale(1.1 1)" font-size="11.2" text-anchor="start" fill="#000" font-weight="bold" >160</text>
<text class="k" transform="translate(507.6 48.0) scale(1.1 1)" font-size="11.2" text-anchor="start" fill="#000" font-weight="bold" >170</text>
<text class="k" transform="translate(396.9 133.2) scale(1.1 1)" font-size="11.2" text-anchor="middle" fill="#000" font-weight="bold" >1</text>
<text class="k" transform="translate(419.25 133.2) scale(1.1 1)" font-size="11.2" text-anchor="middle" fill="#000" font-weight="bold" >2</text>
<text class="k" transform="translate(441.6 133.2) scale(1.1 1)" font-size="11.2" text-anchor="middle" fill="#000" font-weight="bold" >3</text>
<text class="k" transform="translate(463.95 133.2) scale(1.1 1)" font-size="11.2" text-anchor="middle" fill="#000" font-weight="bold" >4</text>
<text class="k" transform="translate(486.3 133.2) scale(1.1 1)" font-size="11.2" text-anchor="middle" fill="#000" font-weight="bold" >5</text>
<text class="k" transform="translate(441.8 146.0) scale(0.985 1)" font-size="11.7" text-anchor="middle" fill="#000" font-weight="bold" >Time (min)</text>
<path d="M396.90 55.10V63.90M394.60 55.10h4.6M394.60 63.90h4.6" stroke="#ed7d31" stroke-width="1.45" fill="none"/>
<path d="M419.25 53.00V61.00M416.95 53.00h4.6M416.95 61.00h4.6" stroke="#ed7d31" stroke-width="1.45" fill="none"/>
<path d="M441.60 49.00V57.80M439.30 49.00h4.6M439.30 57.80h4.6" stroke="#ed7d31" stroke-width="1.45" fill="none"/>
<path d="M463.95 49.50V61.50M461.65 49.50h4.6M461.65 61.50h4.6" stroke="#ed7d31" stroke-width="1.45" fill="none"/>
<path d="M486.30 49.50V61.50M484.00 49.50h4.6M484.00 61.50h4.6" stroke="#ed7d31" stroke-width="1.45" fill="none"/>
<polyline points="396.90,59.50 419.25,57.00 441.60,53.40 463.95,55.50 486.30,55.50" stroke="#f0883f" stroke-width="1.5" fill="none"/>
<rect x="393.50" y="56.10" width="6.8" height="6.8" fill="#f4b183"/>
<rect x="415.85" y="53.60" width="6.8" height="6.8" fill="#f4b183"/>
<rect x="438.20" y="50.00" width="6.8" height="6.8" fill="#f4b183"/>
<rect x="460.55" y="52.10" width="6.8" height="6.8" fill="#f4b183"/>
<rect x="482.90" y="52.10" width="6.8" height="6.8" fill="#f4b183"/>
<text x="441.6" y="49.4" font-size="12.5" text-anchor="middle" fill="#ff1a1a" font-weight="bold" stroke="#ff1a1a" letter-spacing="0.7">*</text>
<text class="k" transform="translate(350.6 124.8) rotate(-90)" font-size="11.8" text-anchor="start" fill="#000" font-weight="bold">Enhancement (%)</text>
<rect x="343.3" y="128.3" width="6.9" height="9.2" fill="#aecdeb"/>
<text class="k" transform="translate(537.2 109.7) rotate(-90)" font-size="11.8" font-weight="bold">pO<tspan font-size="7.3" dy="2.2">2</tspan><tspan dy="-2.2"> (mmHg)</tspan></text>
<path d="M535.3 114.0V131.0" stroke="#ed7d31" stroke-width="1.6"/>
<rect x="532.0" y="118.8" width="6.6" height="7.00" fill="#f4b183"/>
<rect x="391.35" y="207.70" width="9.7" height="51.20" fill="#bdd7ee"/>
<rect x="413.95" y="209.40" width="9.7" height="49.50" fill="#bdd7ee"/>
<rect x="436.55" y="215.70" width="9.7" height="43.20" fill="#bdd7ee"/>
<rect x="481.75" y="257.20" width="9.7" height="1.70" fill="#bdd7ee"/>
<rect x="424.50" y="248.30" width="45.80" height="10.60" fill="#f7d050" fill-opacity="0.8"/>
<text class="k" x="447.0" y="255.9" font-size="7.0" text-anchor="middle" fill="#1a1a1a" font-weight="bold" letter-spacing="0.1">2 min US</text>
<path d="M418.80 208.40V210.60M416.50 208.40h4.6M416.50 210.60h4.6" stroke="#000" stroke-width="1.5" fill="none"/>
<rect x="439.10" y="215.15" width="4.6" height="2.1" fill="#000"/>
<path d="M464.00 254.20V257.80M461.70 254.20h4.6M461.70 257.80h4.6" stroke="#5a4a10" stroke-width="1.5" fill="none"/>
<path d="M486.60 256.40V258.20M484.30 256.40h4.6M484.30 258.20h4.6" stroke="#000" stroke-width="1.5" fill="none"/>
<path d="M385.3 177.10V258.9H498.45" stroke="#000" stroke-width="1.7" fill="none" stroke-linejoin="miter"/>
<path d="M385.3 239.15h3.4" stroke="#000" stroke-width="1.4"/>
<path d="M385.3 218.70h3.4" stroke="#000" stroke-width="1.4"/>
<path d="M385.3 198.25h3.4" stroke="#000" stroke-width="1.4"/>
<path d="M385.3 177.80h3.4" stroke="#000" stroke-width="1.4"/>
<path d="M407.50 258.9v-3.2" stroke="#000" stroke-width="1.3"/>
<path d="M430.10 258.9v-3.2" stroke="#000" stroke-width="1.3"/>
<path d="M452.70 258.9v-3.2" stroke="#000" stroke-width="1.3"/>
<path d="M475.30 258.9v-3.2" stroke="#000" stroke-width="1.3"/>
<path d="M497.60 258.9v-3.2" stroke="#000" stroke-width="1.3"/>
<path d="M497.6 177.10V255.90" stroke="#ed7d31" stroke-width="1.7" fill="none"/>
<path d="M494.00 241.50H497.6" stroke="#ed7d31" stroke-width="1.4"/>
<path d="M494.00 223.20H497.6" stroke="#ed7d31" stroke-width="1.4"/>
<path d="M494.00 204.90H497.6" stroke="#ed7d31" stroke-width="1.4"/>
<path d="M494.00 186.60H497.6" stroke="#ed7d31" stroke-width="1.4"/>
<text class="k" transform="translate(373.6 263.2) scale(1.04 1)" font-size="11.2" text-anchor="end" fill="#000" font-weight="bold" >0</text>
<text class="k" transform="translate(373.6 242.8) scale(1.04 1)" font-size="11.2" text-anchor="end" fill="#000" font-weight="bold" >40</text>
<text class="k" transform="translate(373.6 222.4) scale(1.04 1)" font-size="11.2" text-anchor="end" fill="#000" font-weight="bold" >80</text>
<text class="k" transform="translate(373.6 202.0) scale(1.04 1)" font-size="11.2" text-anchor="end" fill="#000" font-weight="bold" >120</text>
<text class="k" transform="translate(373.6 181.6) scale(1.04 1)" font-size="11.2" text-anchor="end" fill="#000" font-weight="bold" >160</text>
<text class="k" transform="translate(508.8 262.8) scale(1.04 1)" font-size="11.2" text-anchor="start" fill="#000" font-weight="bold" >130</text>
<text class="k" transform="translate(508.8 244.73) scale(1.04 1)" font-size="11.2" text-anchor="start" fill="#000" font-weight="bold" >140</text>
<text class="k" transform="translate(508.8 226.65) scale(1.04 1)" font-size="11.2" text-anchor="start" fill="#000" font-weight="bold" >150</text>
<text class="k" transform="translate(508.8 208.57) scale(1.04 1)" font-size="11.2" text-anchor="start" fill="#000" font-weight="bold" >160</text>
<text class="k" transform="translate(508.8 190.5) scale(1.04 1)" font-size="11.2" text-anchor="start" fill="#000" font-weight="bold" >170</text>
<text class="k" transform="translate(396.2 277.5) scale(1.04 1)" font-size="11.2" text-anchor="middle" fill="#000" font-weight="bold" >1</text>
<text class="k" transform="translate(418.8 277.5) scale(1.04 1)" font-size="11.2" text-anchor="middle" fill="#000" font-weight="bold" >2</text>
<text class="k" transform="translate(441.4 277.5) scale(1.04 1)" font-size="11.2" text-anchor="middle" fill="#000" font-weight="bold" >3</text>
<text class="k" transform="translate(464.0 277.5) scale(1.04 1)" font-size="11.2" text-anchor="middle" fill="#000" font-weight="bold" >4</text>
<text class="k" transform="translate(486.6 277.5) scale(1.04 1)" font-size="11.2" text-anchor="middle" fill="#000" font-weight="bold" >5</text>
<text class="k" transform="translate(442.0 288.0) scale(0.985 1)" font-size="11.7" text-anchor="middle" fill="#000" font-weight="bold" >Time (min)</text>
<path d="M396.20 199.60V209.40M393.90 199.60h4.6M393.90 209.40h4.6" stroke="#ed7d31" stroke-width="1.45" fill="none"/>
<path d="M418.80 193.00V208.40M416.50 193.00h4.6M416.50 208.40h4.6" stroke="#ed7d31" stroke-width="1.45" fill="none"/>
<path d="M441.40 181.70V199.10M439.10 181.70h4.6M439.10 199.10h4.6" stroke="#ed7d31" stroke-width="1.45" fill="none"/>
<path d="M464.00 185.40V203.80M461.70 185.40h4.6M461.70 203.80h4.6" stroke="#ed7d31" stroke-width="1.45" fill="none"/>
<path d="M486.60 186.70V206.90M484.30 186.70h4.6M484.30 206.90h4.6" stroke="#ed7d31" stroke-width="1.45" fill="none"/>
<polyline points="396.20,204.50 418.80,200.70 441.40,190.40 464.00,194.60 486.60,196.80" stroke="#f0883f" stroke-width="1.5" fill="none"/>
<rect x="392.80" y="201.10" width="6.8" height="6.8" fill="#f4b183"/>
<rect x="415.40" y="197.30" width="6.8" height="6.8" fill="#f4b183"/>
<rect x="438.00" y="187.00" width="6.8" height="6.8" fill="#f4b183"/>
<rect x="460.60" y="191.20" width="6.8" height="6.8" fill="#f4b183"/>
<rect x="483.20" y="193.40" width="6.8" height="6.8" fill="#f4b183"/>
<text x="441.6" y="181.6" font-size="12.5" text-anchor="middle" fill="#ff1a1a" font-weight="bold" stroke="#ff1a1a" letter-spacing="0.7">*</text>
<text class="k" transform="translate(350.0 267.8) rotate(-90)" font-size="11.8" text-anchor="start" fill="#000" font-weight="bold">Enhancement (%)</text>
<rect x="343.3" y="273.1" width="6.3" height="8.6" fill="#aecdeb"/>
<text class="k" transform="translate(540.6 253.5) rotate(-90)" font-size="11.8" font-weight="bold">pO<tspan font-size="7.3" dy="2.2">2</tspan><tspan dy="-2.2"> (mmHg)</tspan></text>
<path d="M536.9 256.5V273.3" stroke="#ed7d31" stroke-width="1.6"/>
<rect x="533.6" y="261.9" width="6.6" height="7.10" fill="#f4b183"/>
<rect x="391.75" y="352.10" width="9.7" height="49.50" fill="#bdd7ee"/>
<rect x="414.30" y="352.70" width="9.7" height="48.90" fill="#bdd7ee"/>
<rect x="436.85" y="371.30" width="9.7" height="30.30" fill="#bdd7ee"/>
<rect x="425.00" y="391.00" width="46.10" height="10.60" fill="#f7d050" fill-opacity="0.8"/>
<text class="k" x="447.65" y="398.6" font-size="7.0" text-anchor="middle" fill="#1a1a1a" font-weight="bold" letter-spacing="0.1">2 min US</text>
<rect x="394.30" y="351.80" width="4.6" height="1.2" fill="#000"/>
<rect x="416.85" y="352.15" width="4.6" height="2.1" fill="#000"/>
<path d="M441.70 369.80V373.00M439.40 369.80h4.6M439.40 373.00h4.6" stroke="#000" stroke-width="1.5" fill="none"/>
<rect x="461.95" y="398.45" width="4.6" height="2.1" fill="#5a4a10"/>
<rect x="484.50" y="399.45" width="4.6" height="2.1" fill="#000"/>
<path d="M385.7 321.30V401.6H498.25" stroke="#000" stroke-width="1.7" fill="none" stroke-linejoin="miter"/>
<path d="M385.7 382.15h3.4" stroke="#000" stroke-width="1.4"/>
<path d="M385.7 362.10h3.4" stroke="#000" stroke-width="1.4"/>
<path d="M385.7 342.05h3.4" stroke="#000" stroke-width="1.4"/>
<path d="M385.7 322.00h3.4" stroke="#000" stroke-width="1.4"/>
<path d="M407.88 401.6v-3.2" stroke="#000" stroke-width="1.3"/>
<path d="M430.43 401.6v-3.2" stroke="#000" stroke-width="1.3"/>
<path d="M452.98 401.6v-3.2" stroke="#000" stroke-width="1.3"/>
<path d="M475.53 401.6v-3.2" stroke="#000" stroke-width="1.3"/>
<path d="M497.40 401.6v-3.2" stroke="#000" stroke-width="1.3"/>
<path d="M497.4 321.30V398.60" stroke="#ed7d31" stroke-width="1.7" fill="none"/>
<path d="M493.80 384.88H497.4" stroke="#ed7d31" stroke-width="1.4"/>
<path d="M493.80 366.95H497.4" stroke="#ed7d31" stroke-width="1.4"/>
<path d="M493.80 349.03H497.4" stroke="#ed7d31" stroke-width="1.4"/>
<path d="M493.80 331.10H497.4" stroke="#ed7d31" stroke-width="1.4"/>
<text class="k" transform="translate(373.8 406.3) scale(1.04 1)" font-size="11.2" text-anchor="end" fill="#000" font-weight="bold" >0</text>
<text class="k" transform="translate(373.8 386.12) scale(1.04 1)" font-size="11.2" text-anchor="end" fill="#000" font-weight="bold" >40</text>
<text class="k" transform="translate(373.8 365.95) scale(1.04 1)" font-size="11.2" text-anchor="end" fill="#000" font-weight="bold" >80</text>
<text class="k" transform="translate(373.8 345.78) scale(1.04 1)" font-size="11.2" text-anchor="end" fill="#000" font-weight="bold" >120</text>
<text class="k" transform="translate(373.8 325.6) scale(1.04 1)" font-size="11.2" text-anchor="end" fill="#000" font-weight="bold" >160</text>
<text class="k" transform="translate(508.6 406.7) scale(1.04 1)" font-size="11.2" text-anchor="start" fill="#000" font-weight="bold" >130</text>
<text class="k" transform="translate(508.6 388.65) scale(1.04 1)" font-size="11.2" text-anchor="start" fill="#000" font-weight="bold" >140</text>
<text class="k" transform="translate(508.6 370.6) scale(1.04 1)" font-size="11.2" text-anchor="start" fill="#000" font-weight="bold" >150</text>
<text class="k" transform="translate(508.6 352.55) scale(1.04 1)" font-size="11.2" text-anchor="start" fill="#000" font-weight="bold" >160</text>
<text class="k" transform="translate(508.6 334.5) scale(1.04 1)" font-size="11.2" text-anchor="start" fill="#000" font-weight="bold" >170</text>
<text class="k" transform="translate(396.6 420.9) scale(1.04 1)" font-size="11.2" text-anchor="middle" fill="#000" font-weight="bold" >1</text>
<text class="k" transform="translate(419.15 420.9) scale(1.04 1)" font-size="11.2" text-anchor="middle" fill="#000" font-weight="bold" >2</text>
<text class="k" transform="translate(441.7 420.9) scale(1.04 1)" font-size="11.2" text-anchor="middle" fill="#000" font-weight="bold" >3</text>
<text class="k" transform="translate(464.25 420.9) scale(1.04 1)" font-size="11.2" text-anchor="middle" fill="#000" font-weight="bold" >4</text>
<text class="k" transform="translate(486.8 420.9) scale(1.04 1)" font-size="11.2" text-anchor="middle" fill="#000" font-weight="bold" >5</text>
<text class="k" transform="translate(442.0 432.0) scale(0.985 1)" font-size="11.7" text-anchor="middle" fill="#000" font-weight="bold" >Time (min)</text>
<path d="M419.15 339.50V346.90M416.85 339.50h4.6M416.85 346.90h4.6" stroke="#ed7d31" stroke-width="1.45" fill="none"/>
<path d="M441.70 327.20V336.60M439.40 327.20h4.6M439.40 336.60h4.6" stroke="#ed7d31" stroke-width="1.45" fill="none"/>
<path d="M486.80 334.20V342.20M484.50 334.20h4.6M484.50 342.20h4.6" stroke="#ed7d31" stroke-width="1.45" fill="none"/>
<polyline points="396.60,347.30 419.15,343.20 441.70,331.90 464.25,336.00 486.80,338.20" stroke="#f0883f" stroke-width="1.5" fill="none"/>
<rect x="393.20" y="343.90" width="6.8" height="6.8" fill="#f4b183"/>
<rect x="415.75" y="339.80" width="6.8" height="6.8" fill="#f4b183"/>
<rect x="438.30" y="328.50" width="6.8" height="6.8" fill="#f4b183"/>
<rect x="460.85" y="332.60" width="6.8" height="6.8" fill="#f4b183"/>
<rect x="483.40" y="334.80" width="6.8" height="6.8" fill="#f4b183"/>
<text x="418.7" y="340.9" font-size="12.5" text-anchor="middle" fill="#ff1a1a" font-weight="bold" stroke="#ff1a1a" letter-spacing="0.7">*</text>
<text x="442.45000000000005" y="326.9" font-size="12.5" text-anchor="middle" fill="#ff1a1a" font-weight="bold" stroke="#ff1a1a" letter-spacing="0.7">**</text>
<text x="465.05" y="333.7" font-size="12.5" text-anchor="middle" fill="#ff1a1a" font-weight="bold" stroke="#ff1a1a" letter-spacing="0.7">**</text>
<text x="487.05" y="334.4" font-size="12.5" text-anchor="middle" fill="#ff1a1a" font-weight="bold" stroke="#ff1a1a" letter-spacing="0.7">**</text>
<text class="k" transform="translate(351.0 409.0) rotate(-90)" font-size="11.8" text-anchor="start" fill="#000" font-weight="bold">Enhancement (%)</text>
<rect x="343.3" y="413.3" width="7.0" height="9.1" fill="#aecdeb"/>
<text class="k" transform="translate(541.2 396.5) rotate(-90)" font-size="11.8" font-weight="bold">pO<tspan font-size="7.3" dy="2.2">2</tspan><tspan dy="-2.2"> (mmHg)</tspan></text>
<path d="M536.9 399.9V416.8" stroke="#ed7d31" stroke-width="1.6"/>
<rect x="533.6" y="405.4" width="6.6" height="6.60" fill="#f4b183"/>
<text class="k" transform="translate(4.0 17.3) scale(1.04 1)" font-size="13" text-anchor="start" fill="#000" font-weight="bold" >(A)</text>
<text class="k" transform="translate(118.6 16.9) scale(1.09 1)" font-size="13" text-anchor="start" fill="#000" font-weight="bold" >(B)</text>
<text class="k" transform="translate(334.0 16.1) scale(1.035 1)" font-size="13" text-anchor="start" fill="#000" font-weight="bold" >(C)</text>
<text class="k" transform="translate(228.1 24.8) scale(1.09 1)" font-size="11.2" text-anchor="middle" fill="#000" font-weight="bold" >CMB</text>
<path d="M214 27.5H241.8" stroke="#444" stroke-width="1"/>
<text class="k" transform="translate(441.7 24.8) scale(1.09 1)" font-size="11.2" text-anchor="middle" fill="#000" font-weight="bold" >OMB</text>
<path d="M427.4 27.4H456.2" stroke="#444" stroke-width="1"/>
<text class="k" transform="translate(16 101.5) rotate(-90)" font-size="12" text-anchor="start" fill="#000" font-weight="bold">1 MPa</text>
<text class="k" transform="translate(16 245.5) rotate(-90)" font-size="12" text-anchor="start" fill="#000" font-weight="bold">2 MPa</text>
<text class="k" transform="translate(16 390) rotate(-90)" font-size="12" text-anchor="start" fill="#000" font-weight="bold">3 MPa</text>
<text x="78" y="96.8" font-size="10" text-anchor="start" fill="#fff000" font-weight="bold" stroke="#fff000" stroke-width="0.3">Focus</text>
<path d="M75 93.6L67 88.6" stroke="#fff000" stroke-width="1.6"/><path d="M64.0 86.6l6 0.5-2.7 4.5z" fill="#fff000"/>
<text x="50.6" y="282" font-size="10" font-weight="bold" fill="#f8cbad">pO<tspan font-size="6.5" dy="2">2</tspan><tspan dy="-2"> probe</tspan></text>
<path d="M47 279L40.5 275.4" stroke="#f8cbad" stroke-width="1.6"/><path d="M37 273.3l5.8 0.5-2.5 4.4z" fill="#f8cbad"/>
</svg>
</body></html>
